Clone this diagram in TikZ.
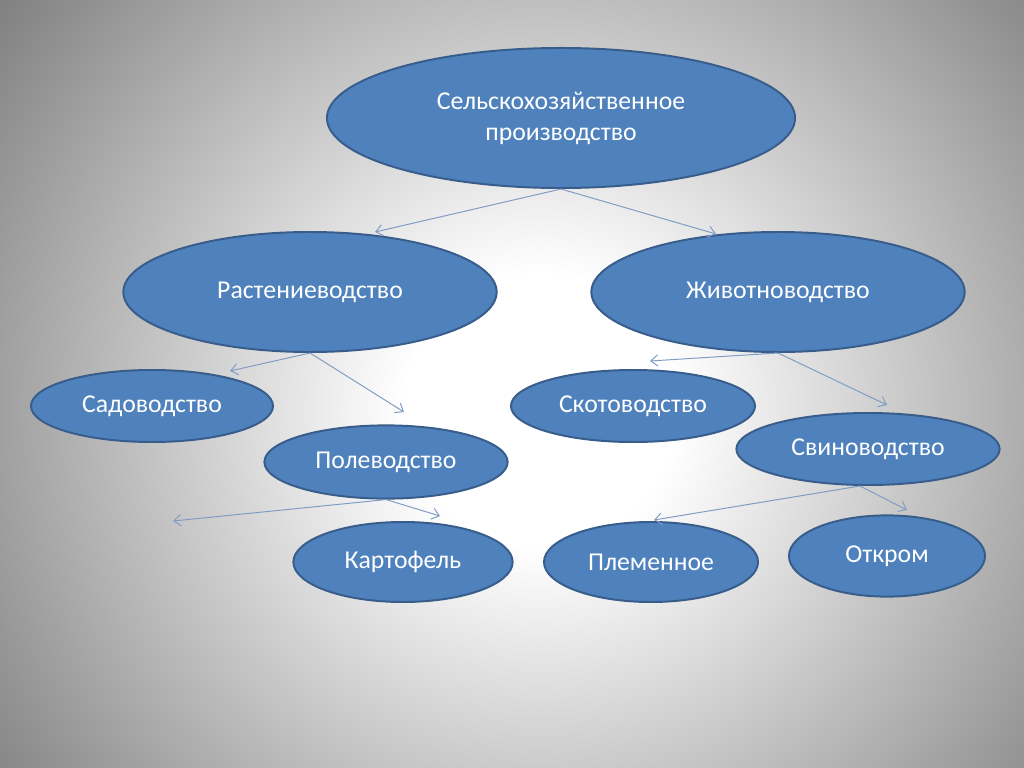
\documentclass[tikz,border=0pt]{standalone}
\usepackage{fontspec}
\setmainfont{Carlito}
\usetikzlibrary{shapes.geometric,arrows.meta}
\definecolor{blobfill}{HTML}{4F81BD}
\definecolor{blobline}{HTML}{385D8A}
\definecolor{linkline}{RGB}{128,156,196}
\pgfdeclareradialshading{bgglow}{\pgfpoint{0bp}{0bp}}{color(0bp)=(white); color(5bp)=(white); color(25bp)=(black!50); color(50bp)=(black!50)}
\begin{document}
\begin{tikzpicture}[x=0.025cm, y=-0.025cm]
	% Define styles for the ellipses and arrows
	\tikzstyle{blob} = [ellipse, draw=blobline, line width=1.4pt, fill=blobfill, text=white, inner sep=0pt, font=\fontsize{18.3}{22}\selectfont, align=center]
	\tikzstyle{link} = [draw=linkline, line width=0.7pt, -{Straight Barb[length=5pt, width=8pt]}]

	% Background
	\useasboundingbox (0,0) rectangle (1024,768);
	\begin{scope}
		\clip (0,0) rectangle (1024,768);
		\fill[black!50] (0,0) rectangle (1024,768);
		\shade[shading=bgglow] (540,410) circle (680);
	\end{scope}

	% Define the ellipses with positions
	\node[blob, minimum width=11.7cm, minimum height=3.5cm] (farm) at (561,118) {Сельскохозяйственное\\производство};

	\node[blob, minimum width=9.33cm, minimum height=3cm] (plant) at (310,292) {Растениеводство};
	\node[blob, minimum width=9.33cm, minimum height=3cm] (animal) at (778,292) {Животноводство};

	\node[blob, minimum width=6.05cm, minimum height=1.8cm] (garden) at (152,406) {Садоводство};
	\node[blob, minimum width=6.08cm, minimum height=1.83cm] (field) at (386,462) {Полеводство};
	\node[blob, minimum width=6.1cm, minimum height=1.8cm] (cattle) at (633,406) {Скотоводство};
	\node[blob, minimum width=6.58cm, minimum height=1.8cm] (pig) at (868,449) {Свиноводство};

	\node[blob, minimum width=5.48cm, minimum height=2cm] (potato) at (403,562) {Картофель};
	\node[blob, minimum width=5.35cm, minimum height=2cm] (breed) at (651,562) {Племенное};
	\node[blob, minimum width=4.9cm, minimum height=2.03cm] (fatten) at (887,556) {Откром};

	% Free ends of the arrows
	\coordinate (t1) at (375,232);
	\coordinate (t2) at (716,234);
	\coordinate (t3) at (230,371);
	\coordinate (t4) at (404,412);
	\coordinate (t5) at (650,361);
	\coordinate (t6) at (887,405);
	\coordinate (t7) at (173,521);
	\coordinate (t8) at (440,516);
	\coordinate (t9) at (654,520);
	\coordinate (t10) at (907,510);

	% Draw the arrows
	\draw[link] (farm.south) -- (t1);
	\draw[link] (farm.south) -- (t2);
	\draw[link] (plant.south) -- (t3);
	\draw[link] (plant.south) -- (t4);
	\draw[link] (animal.south) -- (t5);
	\draw[link] (animal.south) -- (t6);
	\draw[link] (field.south) -- (t7);
	\draw[link] (field.south) -- (t8);
	\draw[link] ([xshift=-0.2cm]pig.south) -- (t9);
	\draw[link] ([xshift=-0.2cm]pig.south) -- (t10);

\end{tikzpicture}
\end{document}
